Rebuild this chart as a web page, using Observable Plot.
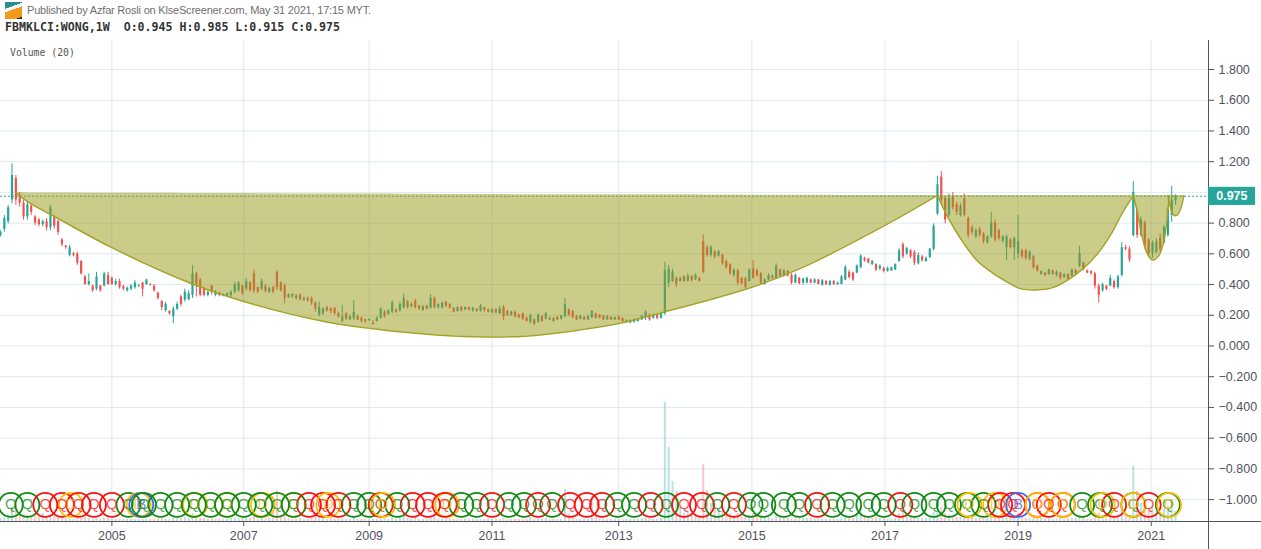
<!DOCTYPE html>
<html>
<head>
<meta charset="utf-8">
<script src="https://cdn.jsdelivr.net/npm/d3@7"></script>
<script src="https://cdn.jsdelivr.net/npm/@observablehq/plot@0.6"></script>
<style>
html,body{margin:0;padding:0;background:#fff;width:1261px;height:549px;overflow:hidden}
#head{position:absolute;left:0;top:0;width:1261px;height:40px}
#logo{position:absolute;left:5px;top:2px;width:17px;height:17px;background:linear-gradient(160deg,#2a8f8a 0 30%,#f5f5f5 30% 45%,#f09a1a 45% 90%,#222 90%)}
#pub{position:absolute;left:27px;top:4px;font:11px "Liberation Sans",sans-serif;letter-spacing:-.2px;color:#6f6f6f;white-space:pre}
#sym{position:absolute;left:5px;top:20px;font:bold 11.6px "DejaVu Sans Mono",monospace;color:#333;white-space:pre}
#vol{position:absolute;left:10px;top:47px;font:9.8px "DejaVu Sans Mono",monospace;color:#555;z-index:2}
#chart{position:absolute;left:0;top:40px}
</style>
</head>
<body>
<div id="head">
<span id="logo"></span>
<span id="pub">Published by Azfar Rosli on KlseScreener.com, May 31 2021, 17:15 MYT.</span>
<span id="sym">FBMKLCI:WONG,1W  O:0.945 H:0.985 L:0.915 C:0.975</span>
</div>
<div id="vol">Volume (20)</div>
<div id="chart"></div>
<script>
const yearLabels = ["2005","2007","2009","2011","2013","2015","2017","2019","2021"];
const yearWeeks = [87,190,288,384,483,587,691,795,899];
const priceTicks = [1.8,1.6,1.4,1.2,1,0.8,0.6,0.4,0.2,0,-0.2,-0.4,-0.6,-0.8,-1];
const lastPrice = 0.975;
const weeksPerCandle = 3;

const highs = [
.75,.85,.915,1.186,1.11,1.0,.95,.935,.925,.85,
.83,.82,.83,.915,.85,.82,.70,.655,.655,.61,
.61,.555,.46,.47,.395,.48,.395,.48,.48,.45,
.435,.435,.395,.385,.40,.425,.40,.415,.435,.405,
.40,.35,.295,.285,.23,.255,.285,.33,.37,.36,
.525,.48,.44,.385,.36,.395,.36,.35,.34,.345,
.36,.415,.42,.395,.44,.42,.495,.385,.435,.40,
.385,.39,.49,.42,.405,.34,.34,.335,.34,.32,
.32,.32,.285,.285,.25,.26,.25,.25,.22,.265,
.22,.20,.295,.20,.19,.175,.178,.165,.19,.25,
.23,.235,.295,.24,.285,.34,.295,.285,.305,.265,
.265,.265,.335,.32,.275,.285,.29,.275,.25,.255,
.26,.255,.253,.253,.242,.27,.253,.242,.242,.242,
.257,.264,.231,.227,.227,.209,.214,.188,.209,.177,
.209,.199,.22,.188,.183,.192,.199,.31,.242,.231,
.199,.199,.192,.199,.231,.214,.205,.199,.199,.192,
.188,.197,.183,.17,.17,.177,.183,.199,.231,.209,
.21,.21,.22,.545,.525,.50,.45,.45,.46,.47,
.459,.47,.448,.724,.654,.654,.622,.622,.60,.56,
.535,.502,.50,.448,.448,.502,.557,.502,.481,.437,
.47,.463,.535,.502,.498,.492,.47,.47,.448,.442,
.448,.437,.437,.433,.433,.426,.426,.426,.416,.459,
.524,.492,.481,.528,.594,.578,.572,.557,.535,.528,
.513,.513,.513,.535,.633,.672,.643,.628,.622,.607,
.59,.58,.635,.795,1.105,1.135,.97,.99,1.0,.935,
.925,.99,.84,.785,.765,.775,.74,.72,.87,.82,
.76,.72,.72,.70,.71,.85,.63,.63,.62,.59,
.525,.49,.48,.50,.495,.49,.48,.47,.47,.50,
.50,.65,.545,.495,.49,.48,.405,.41,.395,.46,
.43,.46,.675,.655,.645,1.07,.89,.84,.815,.70,
.685,.70,.73,.785,.905,1.04,.985];

const lows = [
.71,.74,.795,.925,.915,.905,.82,.82,.85,.785,
.775,.775,.75,.75,.76,.72,.645,.63,.58,.58,
.525,.46,.395,.39,.35,.36,.35,.385,.395,.395,
.39,.37,.36,.35,.36,.37,.38,.32,.395,.39,
.35,.30,.23,.22,.20,.145,.23,.255,.285,.295,
.31,.32,.32,.32,.32,.33,.32,.32,.32,.32,
.315,.34,.35,.33,.36,.35,.34,.34,.36,.345,
.34,.34,.36,.35,.275,.31,.31,.30,.295,.29,
.285,.265,.22,.19,.20,.22,.21,.20,.18,.15,
.165,.165,.165,.165,.15,.145,.16,.135,.155,.175,
.18,.20,.21,.215,.22,.24,.24,.25,.24,.23,
.225,.235,.24,.24,.24,.24,.25,.24,.215,.22,
.22,.23,.227,.22,.22,.22,.22,.214,.209,.209,
.205,.166,.192,.192,.183,.177,.166,.155,.144,.133,
.149,.155,.17,.166,.155,.166,.17,.185,.192,.177,
.166,.17,.166,.166,.177,.177,.177,.166,.166,.166,
.166,.166,.155,.149,.144,.149,.155,.166,.166,.162,
.175,.17,.175,.20,.38,.415,.38,.415,.415,.415,
.416,.426,.416,.47,.578,.578,.568,.578,.524,.50,
.46,.448,.395,.398,.372,.416,.435,.448,.398,.398,
.426,.437,.437,.448,.448,.448,.398,.405,.398,.398,
.405,.405,.405,.398,.39,.394,.39,.394,.394,.398,
.426,.437,.42,.47,.502,.546,.535,.524,.485,.492,
.476,.481,.485,.492,.546,.568,.589,.568,.524,.528,
.545,.545,.57,.62,.85,.92,.795,.84,.885,.85,
.84,.84,.70,.72,.70,.71,.665,.665,.70,.675,
.685,.67,.555,.63,.555,.57,.57,.555,.555,.50,
.48,.46,.45,.46,.46,.45,.43,.44,.425,.45,
.46,.51,.49,.47,.46,.37,.28,.35,.36,.385,
.37,.37,.45,.62,.545,.71,.70,.71,.63,.59,
.57,.60,.61,.665,.71,.805,.915];

const opens = [
.72,.76,.81,.95,1.09,.98,.93,.84,.91,.84,
.82,.79,.81,.77,.84,.81,.69,.65,.59,.60,
.60,.55,.45,.40,.39,.37,.39,.39,.46,.44,
.40,.42,.385,.36,.37,.38,.39,.41,.40,.40,
.39,.345,.29,.23,.225,.19,.24,.32,.30,.30,
.33,.47,.43,.37,.33,.39,.33,.345,.325,.325,
.33,.35,.36,.39,.37,.41,.47,.38,.37,.39,
.35,.38,.48,.41,.39,.315,.335,.31,.33,.30,
.31,.31,.28,.20,.21,.25,.24,.245,.21,.16,
.21,.17,.18,.195,.18,.17,.165,.15,.16,.18,
.22,.205,.22,.235,.23,.25,.29,.255,.29,.26,
.23,.26,.245,.31,.25,.25,.285,.27,.245,.225,
.25,.235,.25,.23,.24,.225,.25,.235,.215,.235,
.21,.25,.225,.20,.22,.20,.21,.18,.155,.17,
.155,.19,.175,.18,.16,.185,.175,.19,.235,.225,
.19,.175,.185,.17,.185,.21,.20,.195,.17,.185,
.17,.19,.18,.155,.15,.155,.16,.17,.19,.20,
.18,.20,.18,.21,.41,.42,.44,.42,.45,.42,
.45,.43,.44,.68,.64,.59,.61,.585,.59,.55,
.53,.46,.49,.44,.44,.42,.50,.49,.47,.40,
.43,.455,.44,.495,.455,.485,.46,.41,.44,.41,
.41,.43,.41,.43,.395,.42,.395,.42,.40,.40,
.43,.48,.475,.475,.51,.57,.565,.53,.53,.50,
.505,.485,.49,.495,.55,.66,.60,.62,.61,.535,
.58,.55,.575,.63,.86,1.10,.96,.85,.97,.92,
.85,.96,.83,.77,.71,.76,.73,.67,.71,.80,
.75,.68,.64,.69,.64,.60,.62,.62,.565,.58,
.52,.465,.475,.465,.49,.46,.475,.445,.465,.455,
.49,.52,.54,.49,.485,.47,.39,.36,.39,.39,
.42,.38,.46,.64,.63,.72,.88,.72,.80,.69,
.60,.61,.70,.67,.72,.85,.945];

const closes = [
.74,.83,.90,1.11,.95,.93,.84,.92,.87,.80,
.79,.81,.77,.90,.78,.74,.66,.64,.64,.59,
.54,.47,.40,.42,.36,.45,.36,.47,.40,.40,
.42,.38,.37,.375,.39,.41,.395,.37,.43,.395,
.36,.31,.25,.27,.21,.24,.27,.27,.35,.34,
.47,.40,.33,.33,.35,.35,.35,.33,.335,.34,
.35,.40,.41,.34,.42,.36,.36,.35,.42,.355,
.375,.35,.38,.36,.31,.335,.32,.325,.30,.31,
.295,.28,.24,.25,.24,.23,.225,.21,.19,.19,
.175,.19,.22,.17,.16,.16,.172,.14,.18,.24,
.19,.23,.28,.22,.27,.31,.25,.27,.25,.24,
.255,.24,.31,.25,.27,.28,.26,.245,.22,.25,
.23,.25,.235,.245,.225,.26,.23,.22,.235,.215,
.24,.19,.20,.22,.19,.185,.175,.16,.20,.14,
.20,.16,.21,.17,.178,.17,.195,.27,.20,.185,
.17,.195,.17,.19,.225,.18,.18,.17,.19,.17,
.185,.17,.16,.165,.165,.172,.178,.195,.22,.17,
.20,.18,.21,.49,.50,.48,.40,.44,.42,.455,
.425,.46,.42,.48,.59,.64,.58,.615,.535,.51,
.47,.495,.41,.405,.38,.495,.44,.455,.41,.43,
.46,.44,.52,.455,.49,.455,.41,.46,.405,.435,
.44,.41,.43,.40,.425,.40,.42,.40,.41,.45,
.51,.445,.43,.52,.585,.555,.54,.55,.495,.52,
.485,.505,.51,.53,.62,.58,.635,.58,.54,.59,
.555,.57,.63,.78,1.05,.95,.82,.96,.90,.87,
.91,.85,.72,.74,.75,.72,.68,.71,.80,.69,
.70,.71,.71,.64,.70,.68,.58,.57,.61,.51,
.49,.485,.46,.495,.465,.48,.44,.465,.43,.495,
.47,.60,.50,.475,.47,.39,.33,.40,.37,.44,
.38,.45,.64,.63,.56,1.0,.72,.82,.65,.60,
.67,.68,.63,.77,.89,.95,.975];

const volumes = [
3,4,6,14,16,9,7,6,5,5,
5,8,4,6,5,4,3,3,3,2,
3,3,4,3,2,3,2,3,3,2,
2,2,2,2,2,2,2,2,2,2,
2,3,3,2,2,5,3,3,4,3,
8,5,3,3,2,3,2,2,2,2,
3,3,3,3,4,3,5,2,3,2,
3,10,31,6,8,3,2,2,3,2,
2,3,5,4,3,2,3,2,2,2,
2,2,4,2,2,2,2,2,2,3,
3,2,4,2,4,6,3,2,5,2,
2,2,5,4,2,2,2,2,2,2,
2,2,2,2,2,2,2,2,2,2,
2,3,2,2,2,2,2,2,4,2,
3,2,3,2,2,2,2,32,8,4,
2,2,2,2,25,5,2,2,2,2,
2,2,2,2,2,2,2,3,4,3,
2,2,3,119,74,40,30,14,8,10,
8,6,5,57,31,18,14,12,10,8,
8,6,8,5,5,6,8,5,5,3,
4,3,6,4,3,3,3,4,3,3,
3,3,2,2,2,2,2,2,2,3,
6,4,3,8,14,5,4,3,4,3,
3,2,2,3,8,10,6,4,5,3,
3,3,4,9,24,14,8,6,5,4,
4,5,6,4,3,3,3,7,5,4,
3,3,6,3,4,8,5,3,3,4,
3,3,2,3,2,3,3,2,3,3,
3,6,4,2,2,5,8,4,3,4,
3,5,12,6,6,55,30,18,12,10,
14,10,8,12,15,22,10];

// Rounded cup-shaped drawings: week, lower edge, upper edge
const cup1Weeks = [12,23,45,87,151,190,250,288,312,340,371,384,410,430,483,518,587,625,691,732];
const cup1Low   = [.997,.93,.83,.64,.40,.29,.165,.115,.092,.072,.06,.058,.064,.08,.147,.22,.383,.505,.785,.98];
const cup1Top   = [.997,.996,.996,.994,.993,.992,.99,.989,.988,.987,.987,.986,.985,.985,.984,.984,.982,.982,.98,.98];
const cup2Weeks = [732,740,750,763,776,789,796,809,822,833,846,857,867,877,885];
const cup2Low   = [.98,.84,.70,.555,.47,.405,.375,.365,.38,.425,.505,.60,.72,.875,.98];
const cup3Weeks = [885,888,892,896,900,905,909,913];
const cup3Low   = [.98,.88,.71,.60,.56,.59,.69,.98];
const cup4Weeks = [912,915,917,919,922,924.5];
const cup4Low   = [.98,.875,.85,.85,.893,.98];

// Indicator badges along the foot of the chart
const badgeWeeks = [8,21,35,48,55,61,73,87,100,108,110,112,125,138,152,151,164,177,177,190,205,203,216,229,229,241,252,256,264,276,288,297,299,310,322,334,349,347,360,372,384,397,409,420,431,445,458,470,482,495,508,520,534,548,560,573,586,596,612,624,638,650,663,678,690,703,714,729,741,755,757,768,777,781,791,795,810,810,819,830,830,845,859,861,870,885,885,897,912,913];
const badgeKinds = ["g","g","r","r","y","r","r","r","g","y","b","g","g","g","y","g","g","y","g","g","y","g","g","y","g","r","r","y","r","g","g","r","y","g","r","r","y","r","g","g","r","g","g","r","g","r","r","r","g","g","r","g","r","r","g","r","g","g","g","g","r","g","g","g","g","r","g","g","g","g","y","g","y","r","r","b","r","y","r","r","y","g","g","y","r","g","y","r","g","y"];
const badgeColor = {g:"#0f8a12", r:"#ff0d0d", y:"#ffbf00", b:"#3f63f5"};
const badgeLetter = {g:"Q", r:"Q", y:"D", b:"B"};
const badgePrice = -1.035;

const yBottom = -1.1426, yTop = 1.9889;
const weekMax = 943.75;
const volumeToAxis = 1 / 153.6;
const up = "#26a69a", down = "#ef5350";

const rows = highs.map((h,i)=>({
  week:i*weeksPerCandle, h, l:lows[i], o:opens[i], c:closes[i], v:volumes[i],
  col: closes[i]>=opens[i] ? up : down
}));
const cup = (w,lo,top)=>w.map((x,i)=>({x,lo:lo[i],top:top?top[i]:0.98}));
const cups = [cup(cup1Weeks,cup1Low,cup1Top),cup(cup2Weeks,cup2Low),cup(cup3Weeks,cup3Low),cup(cup4Weeks,cup4Low)];
const badges = badgeWeeks.map((x,i)=>({x,k:badgeKinds[i]}));
const grid = "#dfe9f0", axisC = "#50535e", font = '"Liberation Sans",sans-serif';

const cupMarks = cups.flatMap(c=>[
  Plot.areaY(c,{x:"x",y1:"lo",y2:"top",curve:"catmull-rom",fill:"#979715",fillOpacity:.5}),
  Plot.lineY(c,{x:"x",y:"lo",curve:"catmull-rom",stroke:"#a3a326",strokeWidth:1.5})
]);

const plot = Plot.plot({
  width:1261,height:509,marginTop:0,marginBottom:28,marginLeft:0,marginRight:53,
  style:{background:"transparent",fontFamily:font,overflow:"visible"},
  x:{domain:[0,weekMax],range:[0,1208],label:null},
  y:{domain:[yBottom,yTop],range:[481,0],label:null},
  color:{type:"identity"},
  marks:[
    Plot.ruleY(priceTicks,{stroke:grid,strokeWidth:1}),
    Plot.ruleX(yearWeeks,{stroke:grid,strokeWidth:1}),
    Plot.ruleX(rows,{x:"week",y1:d=>yBottom,y2:d=>yBottom+d.v*volumeToAxis,stroke:"col",strokeOpacity:.32,strokeWidth:2}),
    Plot.ruleX(rows,{x:"week",y1:"l",y2:"h",stroke:"col",strokeWidth:1}),
    Plot.ruleX(rows,{x:"week",y1:"o",y2:"c",stroke:"col",strokeWidth:2.2}),
    Plot.ruleY([lastPrice],{stroke:up,strokeWidth:1,strokeDasharray:"2,2"}),
    ...cupMarks,
    Plot.dot(badges,{x:"x",y:()=>badgePrice,r:12,fill:"none",stroke:d=>badgeColor[d.k],strokeWidth:1.8}),
    Plot.text(badges,{x:"x",y:()=>badgePrice,dy:-1,text:d=>badgeLetter[d.k],fill:d=>badgeColor[d.k],fillOpacity:.75,fontSize:15,fontFamily:font}),
    Plot.ruleY([yBottom],{stroke:axisC,strokeWidth:1,insetRight:-53}),
    Plot.ruleX([weekMax],{stroke:axisC,strokeWidth:1,insetBottom:-28}),
    Plot.axisX({ticks:yearWeeks,tickFormat:d=>yearLabels[yearWeeks.indexOf(d)],tickSize:5,tickPadding:5,stroke:axisC,fill:axisC,fontSize:12.5,label:null,fontFamily:font}),
    Plot.axisY({ticks:priceTicks,anchor:"right",tickFormat:d=>(d<0?"\u2212":"")+Math.abs(d).toFixed(3),tickSize:5,tickPadding:5,stroke:axisC,fill:axisC,fontSize:12.5,label:null,fontFamily:font}),
    Plot.rect([lastPrice],{x1:()=>weekMax,x2:()=>980.5,y1:()=>.915,y2:()=>1.033,fill:up}),
    Plot.text([lastPrice],{x:()=>962,y:lastPrice,text:d=>d.toFixed(3),fill:"#fff",fontWeight:"bold",fontSize:12.5,fontFamily:font})
  ]
});
document.getElementById("chart").appendChild(plot);
</script>
</body>
</html>
